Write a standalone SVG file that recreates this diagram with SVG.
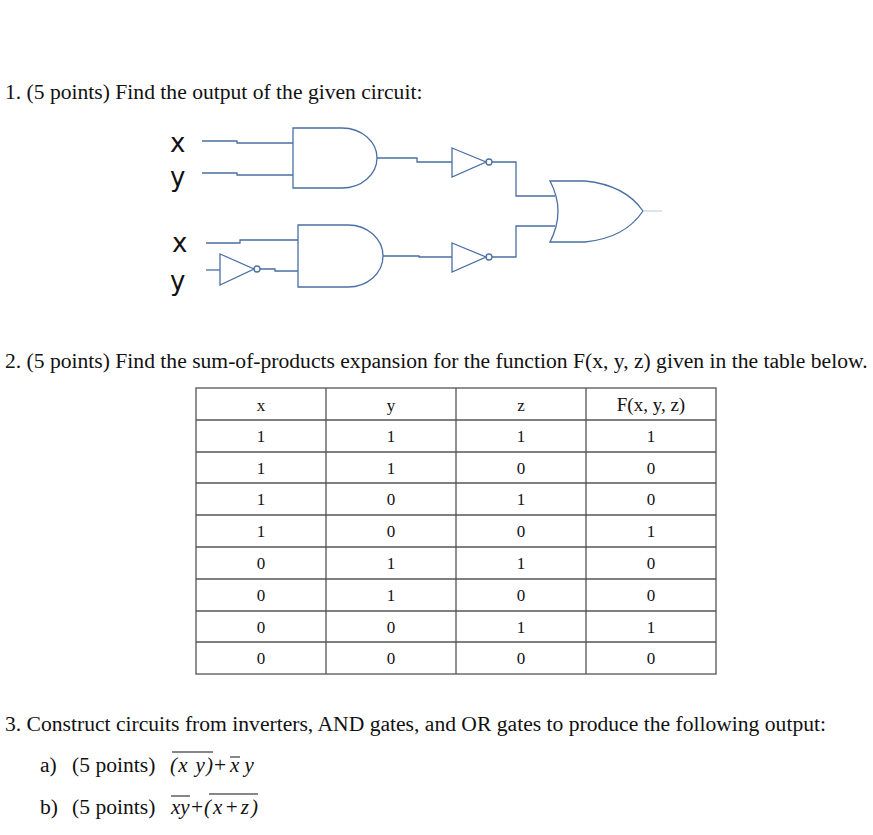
<svg xmlns="http://www.w3.org/2000/svg" width="873" height="835" viewBox="0 0 873 835">
<style>
.t{font-family:"Liberation Serif",serif;font-size:21.6px;fill:#111}
.c{font-family:"Liberation Serif",serif;font-size:17px;fill:#111;text-anchor:middle}
.v{font-family:"DejaVu Sans","Liberation Sans",sans-serif;font-size:26px;fill:#111}
.g{fill:none;stroke:#4a6fa5;stroke-width:1.3}
.tb{fill:none;stroke:#555;stroke-width:1.3}
.m{font-family:"Liberation Serif",serif;font-size:21px;fill:#111;font-style:italic}
</style>
<rect width="873" height="835" fill="#fff"/>
<text class="t" x="5" y="99">1. (5 points) Find the output of the given circuit:</text>
<text class="v" x="170" y="152">x</text>
<text class="v" x="170" y="186">y</text>
<text class="v" x="172" y="252">x</text>
<text class="v" x="170" y="290">y</text>
<g id="and1"><path class="g" d="M293,128 H342 A35,30 0 0 1 342,188 H293 Z"/></g>
<g id="and2"><path class="g" d="M298,225 H348 A35,31 0 0 1 348,287 H298 Z"/></g>
<g id="not1"><path class="g" d="M452,148 L486,162 L452,177 Z"/><circle class="g" cx="489" cy="162" r="3"/></g>
<g id="not2"><path class="g" d="M452,243 L486,257 L452,272 Z"/><circle class="g" cx="489" cy="257" r="3"/></g>
<g id="not3"><path class="g" d="M220,254 L254,269 L220,285 Z"/><circle class="g" cx="257" cy="269" r="3"/></g>
<g id="or1"><path class="g" d="M550,181 H585 Q625,185 643,211 Q625,238 585,242 H550 Q566,211 550,181 Z"/></g>
<g id="wires" class="g">
<path class="g" d="M202,141 H237 V143 H293"/>
<path class="g" d="M202,173 H237 V175 H293"/>
<path class="g" d="M206,243 H240 V240 H298"/>
<path class="g" d="M206,270 H220"/>
<path class="g" d="M260,269 H275 V271 H298"/>
<path class="g" d="M377,158 H417 V162 H452"/>
<path class="g" d="M383,256 H419 V257 H452"/>
<path class="g" d="M492,162 H516 V196 H555"/>
<path class="g" d="M492,257 H516 V226 H555"/>
<path d="M643,211 H662" stroke="#b8c8e0" stroke-width="1"/>
</g>
<text class="t" x="5" y="368">2. (5 points) Find the sum-of-products expansion for the function F(x, y, z) given in the table below.</text>
<g id="table">
<rect class="tb" x="196" y="388" width="520" height="286"/>
<path class="tb" d="M326,388V674M456,388V674M586,388V674M196,420H716M196,452H716M196,483H716M196,515H716M196,547H716M196,579H716M196,611H716M196,642H716"/>
<g class="c">
<text x="261" y="411">x</text><text x="391" y="411">y</text><text x="521" y="411">z</text><text x="651" y="411" style="font-size:19px">F(x, y, z)</text>
<text x="261" y="442">1</text><text x="391" y="442">1</text><text x="521" y="442">1</text><text x="651" y="442">1</text>
<text x="261" y="474">1</text><text x="391" y="474">1</text><text x="521" y="474">0</text><text x="651" y="474">0</text>
<text x="261" y="505">1</text><text x="391" y="505">0</text><text x="521" y="505">1</text><text x="651" y="505">0</text>
<text x="261" y="537">1</text><text x="391" y="537">0</text><text x="521" y="537">0</text><text x="651" y="537">1</text>
<text x="261" y="569">0</text><text x="391" y="569">1</text><text x="521" y="569">1</text><text x="651" y="569">0</text>
<text x="261" y="601">0</text><text x="391" y="601">1</text><text x="521" y="601">0</text><text x="651" y="601">0</text>
<text x="261" y="633">0</text><text x="391" y="633">0</text><text x="521" y="633">1</text><text x="651" y="633">1</text>
<text x="261" y="664">0</text><text x="391" y="664">0</text><text x="521" y="664">0</text><text x="651" y="664">0</text>
</g>
</g>
<text class="t" x="5" y="731">3. Construct circuits from inverters, AND gates, and OR gates to produce the following output:</text>
<text class="t" x="40" y="772">a)</text><text class="t" x="72" y="772">(5 points)</text>
<text class="m" x="170" y="772" textLength="43">(x y)</text>
<text class="t" x="214" y="772">+</text>
<text class="m" x="230" y="772">x y</text>
<path d="M172,752H213M230,757H240" stroke="#111" stroke-width="1.2"/>
<text class="t" x="40" y="814">b)</text><text class="t" x="72" y="814">(5 points)</text>
<text class="m" x="171" y="814">xy</text>
<text class="t" x="191" y="814">+</text>
<text class="m" x="204" y="814" textLength="54">(x+z)</text>
<path d="M171,796H190M209,794H258" stroke="#111" stroke-width="1.2"/>
</svg>
